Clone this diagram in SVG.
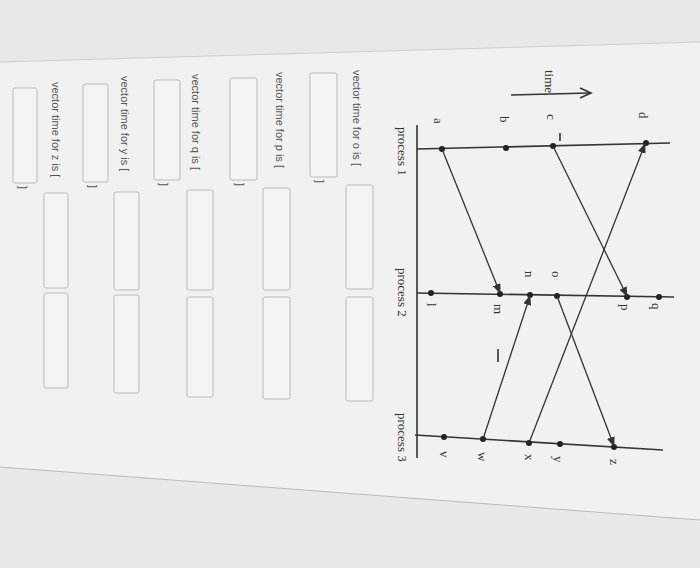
<svg xmlns="http://www.w3.org/2000/svg" width="700" height="568" viewBox="0 0 700 568">
<style>
.ln{stroke:#333;stroke-width:1.6;fill:none}
.ar{stroke:#333;stroke-width:1.3;fill:none;marker-end:url(#ah)}
.dot{fill:#222}
.lb{font-family:"Liberation Serif",serif;font-size:13px;fill:#333}
.ft{font-family:"Liberation Sans",sans-serif;font-size:11px;fill:#555}
.bx{fill:#f4f4f4;stroke:#bbb;stroke-width:1}
</style>
<defs>
<marker id="ah" markerWidth="10" markerHeight="8" refX="9" refY="4" orient="auto" markerUnits="userSpaceOnUse">
<path d="M0,0 L10,4 L0,8 Z" fill="#333"/>
</marker>
</defs>
<rect width="700" height="568" fill="#e8e8e8"/>
<path d="M0,62 L700,42 L700,520 L0,467 Z" fill="#f1f1f1"/>
<line x1="0" y1="467" x2="700" y2="520" stroke="#bbb"/>
<line x1="0" y1="62" x2="700" y2="42" stroke="#ccc"/>

<g id="time">
<text class="lb" transform="rotate(90 545 70)" x="545" y="70">time</text>
<line class="ln" x1="511" y1="95" x2="590" y2="93" stroke-width="1.2"/>
<path d="M580,88 L591,93 L580,98" class="ln" stroke-width="1.2"/>
</g>

<g id="axes">
<line class="ln" x1="417" y1="125" x2="417" y2="458"/>
<text class="lb" transform="rotate(90 398 127)" x="398" y="127">process 1</text>
<text class="lb" transform="rotate(90 398 268)" x="398" y="268">process 2</text>
<text class="lb" transform="rotate(90 398 413)" x="398" y="413">process 3</text>
</g>

<g id="process1">
<line class="ln" x1="417" y1="149" x2="670" y2="143"/>
<circle class="dot" cx="442" cy="149" r="3"/><circle class="dot" cx="506" cy="148" r="3"/>
<circle class="dot" cx="553" cy="146" r="3"/><circle class="dot" cx="646" cy="143" r="3"/>
<line class="ln" x1="560" y1="133" x2="560" y2="141" stroke-width="1.2"/>
<text class="lb" transform="rotate(90 434 118)" x="434" y="118">a</text>
<text class="lb" transform="rotate(90 500 116)" x="500" y="116">b</text>
<text class="lb" transform="rotate(90 547 114)" x="547" y="114">c</text>
<text class="lb" transform="rotate(90 639 112)" x="639" y="112">d</text>
</g>

<g id="process2">
<line class="ln" x1="417" y1="293" x2="674" y2="297"/>
<circle class="dot" cx="431" cy="293" r="3"/><circle class="dot" cx="500" cy="294" r="3"/>
<circle class="dot" cx="530" cy="295" r="3"/><circle class="dot" cx="557" cy="296" r="3"/>
<circle class="dot" cx="627" cy="297" r="3"/><circle class="dot" cx="659" cy="297" r="3"/>
<text class="lb" transform="rotate(90 427 303)" x="427" y="303">l</text>
<text class="lb" transform="rotate(90 494 304)" x="494" y="304">m</text>
<text class="lb" transform="rotate(90 525 271)" x="525" y="271">n</text>
<text class="lb" transform="rotate(90 552 271)" x="552" y="271">o</text>
<text class="lb" transform="rotate(90 621 304)" x="621" y="304">p</text>
<text class="lb" transform="rotate(90 652 303)" x="652" y="303">q</text>
<line class="ln" x1="498" y1="349" x2="498" y2="362" stroke-width="1.2"/>
</g>

<g id="process3">
<line class="ln" x1="415" y1="435" x2="663" y2="450"/>
<circle class="dot" cx="444" cy="437" r="3"/><circle class="dot" cx="483" cy="439" r="3"/>
<circle class="dot" cx="529" cy="443" r="3"/><circle class="dot" cx="560" cy="444" r="3"/>
<circle class="dot" cx="614" cy="447" r="3"/>
<text class="lb" transform="rotate(90 440 451)" x="440" y="451">v</text>
<text class="lb" transform="rotate(90 478 452)" x="478" y="452">w</text>
<text class="lb" transform="rotate(90 525 454)" x="525" y="454">x</text>
<text class="lb" transform="rotate(90 554 456)" x="554" y="456">y</text>
<text class="lb" transform="rotate(90 610 459)" x="610" y="459">z</text>
</g>

<g id="connectors">
<line class="ar" x1="442" y1="149" x2="500" y2="293"/>
<line class="ar" x1="553" y1="146" x2="627" y2="296"/>
<line class="ar" x1="483" y1="439" x2="530" y2="296"/>
<line class="ar" x1="529" y1="443" x2="645" y2="144"/>
<line class="ar" x1="557" y1="296" x2="614" y2="446"/>
</g>

<g id="form">
<text class="ft" transform="rotate(90 353 70)" x="353" y="70">vector time for o is  [</text>
<rect class="bx" x="346" y="185" width="27" height="104" rx="2"/>
<rect class="bx" x="346" y="297" width="27" height="104" rx="2"/>
<rect class="bx" x="310" y="73" width="27" height="104" rx="2"/>
<text class="ft" transform="rotate(90 316 180)" x="316" y="180">]</text>

<text class="ft" transform="rotate(90 276 72)" x="276" y="72">vector time for p is  [</text>
<rect class="bx" x="263" y="188" width="27" height="102" rx="2"/>
<rect class="bx" x="263" y="297" width="27" height="102" rx="2"/>
<rect class="bx" x="230" y="78" width="27" height="102" rx="2"/>
<text class="ft" transform="rotate(90 236 183)" x="236" y="183">]</text>

<text class="ft" transform="rotate(90 192 74)" x="192" y="74">vector time for q is  [</text>
<rect class="bx" x="187" y="190" width="26" height="100" rx="2"/>
<rect class="bx" x="187" y="297" width="26" height="100" rx="2"/>
<rect class="bx" x="154" y="80" width="26" height="100" rx="2"/>
<text class="ft" transform="rotate(90 160 183)" x="160" y="183">]</text>

<text class="ft" transform="rotate(90 121 76)" x="121" y="76">vector time for y is  [</text>
<rect class="bx" x="114" y="192" width="25" height="98" rx="2"/>
<rect class="bx" x="114" y="295" width="25" height="98" rx="2"/>
<rect class="bx" x="83" y="84" width="25" height="98" rx="2"/>
<text class="ft" transform="rotate(90 89 185)" x="89" y="185">]</text>

<text class="ft" transform="rotate(90 52 82)" x="52" y="82">vector time for z is  [</text>
<rect class="bx" x="44" y="193" width="24" height="95" rx="2"/>
<rect class="bx" x="44" y="293" width="24" height="95" rx="2"/>
<rect class="bx" x="13" y="88" width="24" height="95" rx="2"/>
<text class="ft" transform="rotate(90 19 186)" x="19" y="186">]</text>
</g>
</svg>
